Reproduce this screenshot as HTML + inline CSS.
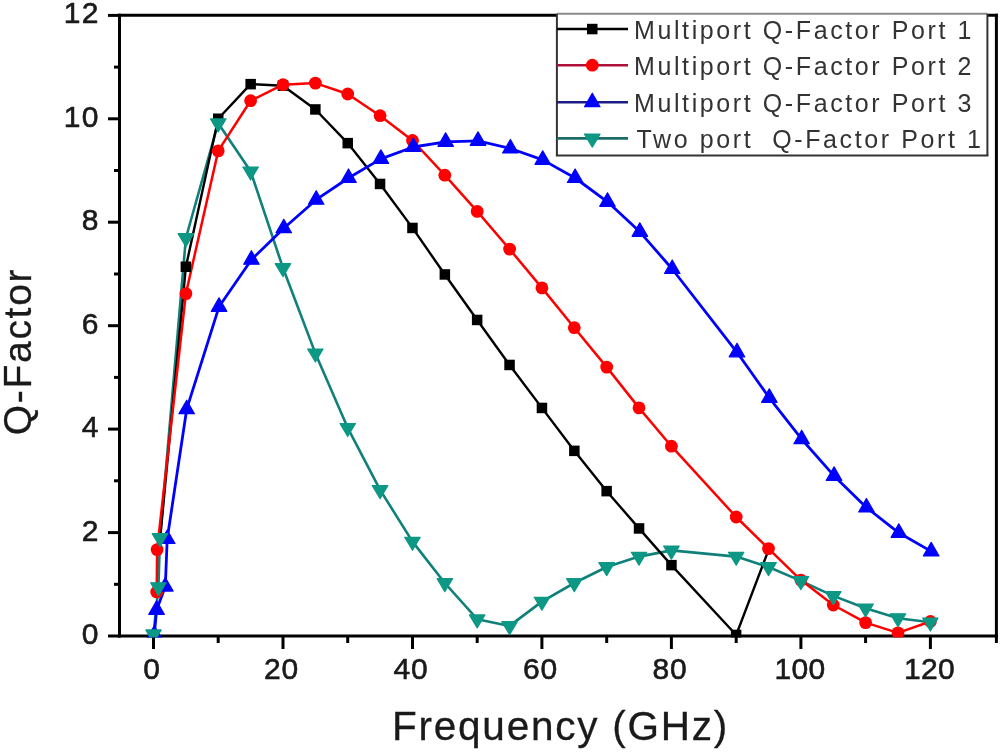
<!DOCTYPE html>
<html><head><meta charset="utf-8"><title>Q-Factor vs Frequency</title>
<style>html,body{margin:0;padding:0;background:#fff;width:1000px;height:754px;overflow:hidden}svg{display:block}text{font-family:"Liberation Sans",Arial,sans-serif}</style></head><body>
<svg width="1000" height="754" viewBox="0 0 1000 754">
<rect width="1000" height="754" fill="#fff"/>
<defs><clipPath id="pa"><rect x="118" y="13.7" width="879.5" height="623.8"/></clipPath></defs>
<g stroke="#000" stroke-width="3" fill="none" stroke-linecap="butt">
<line x1="119.5" y1="13.7" x2="119.5" y2="637.5"/>
<line x1="118.0" y1="15.2" x2="997.9" y2="15.2"/>
<line x1="118.0" y1="636.0" x2="997.9" y2="636.0"/>
<line x1="996.4" y1="13.7" x2="996.4" y2="643"/>
<line x1="108" y1="636.0" x2="119.5" y2="636.0"/>
<line x1="114" y1="584.3" x2="119.5" y2="584.3"/>
<line x1="108" y1="532.6" x2="119.5" y2="532.6"/>
<line x1="114" y1="480.8" x2="119.5" y2="480.8"/>
<line x1="108" y1="429.1" x2="119.5" y2="429.1"/>
<line x1="114" y1="377.4" x2="119.5" y2="377.4"/>
<line x1="108" y1="325.7" x2="119.5" y2="325.7"/>
<line x1="114" y1="274.0" x2="119.5" y2="274.0"/>
<line x1="108" y1="222.2" x2="119.5" y2="222.2"/>
<line x1="114" y1="170.5" x2="119.5" y2="170.5"/>
<line x1="108" y1="118.8" x2="119.5" y2="118.8"/>
<line x1="114" y1="67.1" x2="119.5" y2="67.1"/>
<line x1="108" y1="15.4" x2="119.5" y2="15.4"/>
<line x1="153.5" y1="636.0" x2="153.5" y2="649"/>
<line x1="218.2" y1="636.0" x2="218.2" y2="643"/>
<line x1="283.0" y1="636.0" x2="283.0" y2="649"/>
<line x1="347.7" y1="636.0" x2="347.7" y2="643"/>
<line x1="412.5" y1="636.0" x2="412.5" y2="649"/>
<line x1="477.2" y1="636.0" x2="477.2" y2="643"/>
<line x1="541.9" y1="636.0" x2="541.9" y2="649"/>
<line x1="606.7" y1="636.0" x2="606.7" y2="643"/>
<line x1="671.4" y1="636.0" x2="671.4" y2="649"/>
<line x1="736.2" y1="636.0" x2="736.2" y2="643"/>
<line x1="800.9" y1="636.0" x2="800.9" y2="649"/>
<line x1="865.6" y1="636.0" x2="865.6" y2="643"/>
<line x1="930.4" y1="636.0" x2="930.4" y2="649"/>
</g>
<g clip-path="url(#pa)">
<polyline points="153.5,634.2 158.4,587.1 160.0,538.0 185.9,238.0 218.2,123.2 250.6,171.3 283.0,268.0 315.4,353.4 347.7,427.8 380.1,489.9 412.5,541.6 444.8,583.0 477.2,619.2 509.6,625.9 541.9,601.6 574.3,583.0 606.7,567.0 639.0,556.6 671.4,550.4 736.2,556.6 768.5,567.0 800.9,580.9 833.3,595.9 865.6,608.3 898.0,618.2 930.4,622.3" fill="none" stroke="#0f807a" stroke-width="2.6" stroke-linejoin="round"/>
<polyline points="160.0,539.8 185.9,266.7 218.2,118.8 250.6,84.1 283.0,85.7 315.4,109.5 347.7,143.1 380.1,184.0 412.5,227.9 444.8,274.5 477.2,320.0 509.6,365.0 541.9,407.9 574.3,450.8 606.7,491.2 639.0,528.4 671.4,565.1 736.2,635.0 768.5,550.1" fill="none" stroke="#000" stroke-width="2.4" stroke-linejoin="round"/>
<polyline points="156.7,592.0 157.1,549.6 185.9,293.6 218.2,150.9 250.6,100.7 283.0,84.7 315.4,83.1 347.7,94.0 380.1,115.7 412.5,140.5 444.8,175.2 477.2,211.4 509.6,249.1 541.9,287.9 574.3,327.7 606.7,367.1 639.0,407.9 671.4,446.2 736.2,517.0 768.5,548.6 800.9,580.1 833.3,605.0 865.6,622.6 898.0,632.9 930.4,621.5" fill="none" stroke="#ff0000" stroke-width="2.5" stroke-linejoin="round"/>
<polyline points="154.3,634.7 156.6,609.9 165.3,586.6 167.2,539.0 186.7,409.2 219.0,306.8 251.4,259.7 283.8,228.2 316.2,199.7 348.5,178.0 380.9,158.9 413.3,147.0 445.6,141.8 478.0,140.8 510.4,148.5 542.7,159.9 575.1,178.0 607.5,201.8 639.8,231.8 672.2,269.0 737.0,352.3 769.3,397.8 801.7,439.2 834.1,475.9 866.4,507.5 898.8,532.8 931.2,551.4" fill="none" stroke="#0000ff" stroke-width="2.8" stroke-linejoin="round"/>
<g><rect x="180.6" y="261.5" width="10.5" height="10.5" fill="#000"/><rect x="213.0" y="113.5" width="10.5" height="10.5" fill="#000"/><rect x="245.4" y="78.9" width="10.5" height="10.5" fill="#000"/><rect x="277.7" y="80.4" width="10.5" height="10.5" fill="#000"/><rect x="310.1" y="104.2" width="10.5" height="10.5" fill="#000"/><rect x="342.5" y="137.9" width="10.5" height="10.5" fill="#000"/><rect x="374.8" y="178.7" width="10.5" height="10.5" fill="#000"/><rect x="407.2" y="222.7" width="10.5" height="10.5" fill="#000"/><rect x="439.6" y="269.2" width="10.5" height="10.5" fill="#000"/><rect x="471.9" y="314.7" width="10.5" height="10.5" fill="#000"/><rect x="504.3" y="359.7" width="10.5" height="10.5" fill="#000"/><rect x="536.7" y="402.7" width="10.5" height="10.5" fill="#000"/><rect x="569.1" y="445.6" width="10.5" height="10.5" fill="#000"/><rect x="601.4" y="485.9" width="10.5" height="10.5" fill="#000"/><rect x="633.8" y="523.2" width="10.5" height="10.5" fill="#000"/><rect x="666.2" y="559.9" width="10.5" height="10.5" fill="#000"/><rect x="730.9" y="629.7" width="10.5" height="10.5" fill="#000"/></g>
<g><circle cx="156.7" cy="592.0" r="6.4" fill="#ff0000"/><circle cx="157.1" cy="549.6" r="6.4" fill="#ff0000"/><circle cx="185.9" cy="293.6" r="6.4" fill="#ff0000"/><circle cx="218.2" cy="150.9" r="6.4" fill="#ff0000"/><circle cx="250.6" cy="100.7" r="6.4" fill="#ff0000"/><circle cx="283.0" cy="84.7" r="6.4" fill="#ff0000"/><circle cx="315.4" cy="83.1" r="6.4" fill="#ff0000"/><circle cx="347.7" cy="94.0" r="6.4" fill="#ff0000"/><circle cx="380.1" cy="115.7" r="6.4" fill="#ff0000"/><circle cx="412.5" cy="140.5" r="6.4" fill="#ff0000"/><circle cx="444.8" cy="175.2" r="6.4" fill="#ff0000"/><circle cx="477.2" cy="211.4" r="6.4" fill="#ff0000"/><circle cx="509.6" cy="249.1" r="6.4" fill="#ff0000"/><circle cx="541.9" cy="287.9" r="6.4" fill="#ff0000"/><circle cx="574.3" cy="327.7" r="6.4" fill="#ff0000"/><circle cx="606.7" cy="367.1" r="6.4" fill="#ff0000"/><circle cx="639.0" cy="407.9" r="6.4" fill="#ff0000"/><circle cx="671.4" cy="446.2" r="6.4" fill="#ff0000"/><circle cx="736.2" cy="517.0" r="6.4" fill="#ff0000"/><circle cx="768.5" cy="548.6" r="6.4" fill="#ff0000"/><circle cx="800.9" cy="580.1" r="6.4" fill="#ff0000"/><circle cx="833.3" cy="605.0" r="6.4" fill="#ff0000"/><circle cx="865.6" cy="622.6" r="6.4" fill="#ff0000"/><circle cx="898.0" cy="632.9" r="6.4" fill="#ff0000"/><circle cx="930.4" cy="621.5" r="6.4" fill="#ff0000"/></g>
<g><polygon points="154.3,625.7 146.6,639.2 162.1,639.2" fill="#0000ff" stroke="#0000ff" stroke-width="1.2" stroke-linejoin="round"/><polygon points="156.6,600.9 148.8,614.4 164.3,614.4" fill="#0000ff" stroke="#0000ff" stroke-width="1.2" stroke-linejoin="round"/><polygon points="165.3,577.6 157.6,591.1 173.1,591.1" fill="#0000ff" stroke="#0000ff" stroke-width="1.2" stroke-linejoin="round"/><polygon points="167.2,530.0 159.5,543.5 175.0,543.5" fill="#0000ff" stroke="#0000ff" stroke-width="1.2" stroke-linejoin="round"/><polygon points="186.7,400.2 178.9,413.7 194.4,413.7" fill="#0000ff" stroke="#0000ff" stroke-width="1.2" stroke-linejoin="round"/><polygon points="219.0,297.8 211.3,311.3 226.8,311.3" fill="#0000ff" stroke="#0000ff" stroke-width="1.2" stroke-linejoin="round"/><polygon points="251.4,250.7 243.7,264.2 259.2,264.2" fill="#0000ff" stroke="#0000ff" stroke-width="1.2" stroke-linejoin="round"/><polygon points="283.8,219.2 276.0,232.7 291.5,232.7" fill="#0000ff" stroke="#0000ff" stroke-width="1.2" stroke-linejoin="round"/><polygon points="316.2,190.7 308.4,204.2 323.9,204.2" fill="#0000ff" stroke="#0000ff" stroke-width="1.2" stroke-linejoin="round"/><polygon points="348.5,169.0 340.8,182.5 356.3,182.5" fill="#0000ff" stroke="#0000ff" stroke-width="1.2" stroke-linejoin="round"/><polygon points="380.9,149.9 373.1,163.4 388.6,163.4" fill="#0000ff" stroke="#0000ff" stroke-width="1.2" stroke-linejoin="round"/><polygon points="413.3,138.0 405.5,151.5 421.0,151.5" fill="#0000ff" stroke="#0000ff" stroke-width="1.2" stroke-linejoin="round"/><polygon points="445.6,132.8 437.9,146.3 453.4,146.3" fill="#0000ff" stroke="#0000ff" stroke-width="1.2" stroke-linejoin="round"/><polygon points="478.0,131.8 470.2,145.3 485.8,145.3" fill="#0000ff" stroke="#0000ff" stroke-width="1.2" stroke-linejoin="round"/><polygon points="510.4,139.5 502.6,153.0 518.1,153.0" fill="#0000ff" stroke="#0000ff" stroke-width="1.2" stroke-linejoin="round"/><polygon points="542.7,150.9 535.0,164.4 550.5,164.4" fill="#0000ff" stroke="#0000ff" stroke-width="1.2" stroke-linejoin="round"/><polygon points="575.1,169.0 567.4,182.5 582.9,182.5" fill="#0000ff" stroke="#0000ff" stroke-width="1.2" stroke-linejoin="round"/><polygon points="607.5,192.8 599.7,206.3 615.2,206.3" fill="#0000ff" stroke="#0000ff" stroke-width="1.2" stroke-linejoin="round"/><polygon points="639.8,222.8 632.1,236.3 647.6,236.3" fill="#0000ff" stroke="#0000ff" stroke-width="1.2" stroke-linejoin="round"/><polygon points="672.2,260.0 664.5,273.5 680.0,273.5" fill="#0000ff" stroke="#0000ff" stroke-width="1.2" stroke-linejoin="round"/><polygon points="737.0,343.3 729.2,356.8 744.7,356.8" fill="#0000ff" stroke="#0000ff" stroke-width="1.2" stroke-linejoin="round"/><polygon points="769.3,388.8 761.6,402.3 777.1,402.3" fill="#0000ff" stroke="#0000ff" stroke-width="1.2" stroke-linejoin="round"/><polygon points="801.7,430.2 793.9,443.7 809.4,443.7" fill="#0000ff" stroke="#0000ff" stroke-width="1.2" stroke-linejoin="round"/><polygon points="834.1,466.9 826.3,480.4 841.8,480.4" fill="#0000ff" stroke="#0000ff" stroke-width="1.2" stroke-linejoin="round"/><polygon points="866.4,498.5 858.7,512.0 874.2,512.0" fill="#0000ff" stroke="#0000ff" stroke-width="1.2" stroke-linejoin="round"/><polygon points="898.8,523.8 891.1,537.3 906.6,537.3" fill="#0000ff" stroke="#0000ff" stroke-width="1.2" stroke-linejoin="round"/><polygon points="931.2,542.4 923.4,555.9 938.9,555.9" fill="#0000ff" stroke="#0000ff" stroke-width="1.2" stroke-linejoin="round"/></g>
<g><polygon points="145.8,629.9 161.2,629.9 153.5,642.9" fill="#0c9884" stroke="#0c9884" stroke-width="1.2" stroke-linejoin="round"/><polygon points="150.6,582.8 166.1,582.8 158.4,595.8" fill="#0c9884" stroke="#0c9884" stroke-width="1.2" stroke-linejoin="round"/><polygon points="152.2,533.7 167.7,533.7 160.0,546.7" fill="#0c9884" stroke="#0c9884" stroke-width="1.2" stroke-linejoin="round"/><polygon points="178.1,233.7 193.6,233.7 185.9,246.7" fill="#0c9884" stroke="#0c9884" stroke-width="1.2" stroke-linejoin="round"/><polygon points="210.5,118.9 226.0,118.9 218.2,131.9" fill="#0c9884" stroke="#0c9884" stroke-width="1.2" stroke-linejoin="round"/><polygon points="242.9,167.0 258.4,167.0 250.6,180.0" fill="#0c9884" stroke="#0c9884" stroke-width="1.2" stroke-linejoin="round"/><polygon points="275.2,263.7 290.7,263.7 283.0,276.7" fill="#0c9884" stroke="#0c9884" stroke-width="1.2" stroke-linejoin="round"/><polygon points="307.6,349.0 323.1,349.0 315.4,362.0" fill="#0c9884" stroke="#0c9884" stroke-width="1.2" stroke-linejoin="round"/><polygon points="340.0,423.5 355.5,423.5 347.7,436.5" fill="#0c9884" stroke="#0c9884" stroke-width="1.2" stroke-linejoin="round"/><polygon points="372.3,485.6 387.8,485.6 380.1,498.6" fill="#0c9884" stroke="#0c9884" stroke-width="1.2" stroke-linejoin="round"/><polygon points="404.7,537.3 420.2,537.3 412.5,550.3" fill="#0c9884" stroke="#0c9884" stroke-width="1.2" stroke-linejoin="round"/><polygon points="437.1,578.7 452.6,578.7 444.8,591.7" fill="#0c9884" stroke="#0c9884" stroke-width="1.2" stroke-linejoin="round"/><polygon points="469.4,614.9 484.9,614.9 477.2,627.9" fill="#0c9884" stroke="#0c9884" stroke-width="1.2" stroke-linejoin="round"/><polygon points="501.8,621.6 517.3,621.6 509.6,634.6" fill="#0c9884" stroke="#0c9884" stroke-width="1.2" stroke-linejoin="round"/><polygon points="534.2,597.3 549.7,597.3 541.9,610.3" fill="#0c9884" stroke="#0c9884" stroke-width="1.2" stroke-linejoin="round"/><polygon points="566.6,578.7 582.1,578.7 574.3,591.7" fill="#0c9884" stroke="#0c9884" stroke-width="1.2" stroke-linejoin="round"/><polygon points="598.9,562.6 614.4,562.6 606.7,575.6" fill="#0c9884" stroke="#0c9884" stroke-width="1.2" stroke-linejoin="round"/><polygon points="631.3,552.3 646.8,552.3 639.0,565.3" fill="#0c9884" stroke="#0c9884" stroke-width="1.2" stroke-linejoin="round"/><polygon points="663.7,546.1 679.2,546.1 671.4,559.1" fill="#0c9884" stroke="#0c9884" stroke-width="1.2" stroke-linejoin="round"/><polygon points="728.4,552.3 743.9,552.3 736.2,565.3" fill="#0c9884" stroke="#0c9884" stroke-width="1.2" stroke-linejoin="round"/><polygon points="760.8,562.6 776.3,562.6 768.5,575.6" fill="#0c9884" stroke="#0c9884" stroke-width="1.2" stroke-linejoin="round"/><polygon points="793.1,576.6 808.6,576.6 800.9,589.6" fill="#0c9884" stroke="#0c9884" stroke-width="1.2" stroke-linejoin="round"/><polygon points="825.5,591.6 841.0,591.6 833.3,604.6" fill="#0c9884" stroke="#0c9884" stroke-width="1.2" stroke-linejoin="round"/><polygon points="857.9,604.0 873.4,604.0 865.6,617.0" fill="#0c9884" stroke="#0c9884" stroke-width="1.2" stroke-linejoin="round"/><polygon points="890.3,613.8 905.8,613.8 898.0,626.8" fill="#0c9884" stroke="#0c9884" stroke-width="1.2" stroke-linejoin="round"/><polygon points="922.6,618.0 938.1,618.0 930.4,631.0" fill="#0c9884" stroke="#0c9884" stroke-width="1.2" stroke-linejoin="round"/></g>
</g>
<g fill="#1a1a1a" stroke="#1a1a1a" stroke-width="0.6" font-size="30">
<text x="100" y="644.0" text-anchor="end" letter-spacing="1.5">0</text>
<text x="100" y="540.6" text-anchor="end" letter-spacing="1.5">2</text>
<text x="100" y="437.1" text-anchor="end" letter-spacing="1.5">4</text>
<text x="100" y="333.7" text-anchor="end" letter-spacing="1.5">6</text>
<text x="100" y="230.2" text-anchor="end" letter-spacing="1.5">8</text>
<text x="100" y="126.8" text-anchor="end" letter-spacing="1.5">10</text>
<text x="100" y="23.4" text-anchor="end" letter-spacing="1.5">12</text>
<text x="152.1" y="678.9" text-anchor="middle" letter-spacing="0.9">0</text>
<text x="281.6" y="678.9" text-anchor="middle" letter-spacing="0.9">20</text>
<text x="411.1" y="678.9" text-anchor="middle" letter-spacing="0.9">40</text>
<text x="540.6" y="678.9" text-anchor="middle" letter-spacing="0.9">60</text>
<text x="670.1" y="678.9" text-anchor="middle" letter-spacing="0.9">80</text>
<text x="800.1" y="678.9" text-anchor="middle" letter-spacing="0.4">100</text>
<text x="929.6" y="678.9" text-anchor="middle" letter-spacing="0.4">120</text>
</g>
<text x="560.5" y="740.4" text-anchor="middle" font-size="40.5" letter-spacing="1.75" fill="#1a1a1a" stroke="#1a1a1a" stroke-width="0.3">Frequency (GHz)</text>
<text transform="translate(30.5,351.5) rotate(-90)" text-anchor="middle" font-size="39" letter-spacing="1.7" fill="#1a1a1a" stroke="#1a1a1a" stroke-width="0.3">Q-Factor</text>
<rect x="556.9" y="13.8" width="430.5" height="141.8" fill="#fff" stroke="none"/>
<line x1="556.9" y1="13.8" x2="987.4" y2="13.8" stroke="#8a8a8a" stroke-width="2"/>
<line x1="556.9" y1="13.8" x2="556.9" y2="155.6" stroke="#333" stroke-width="2"/>
<line x1="987.4" y1="13.8" x2="987.4" y2="155.6" stroke="#333" stroke-width="2"/>
<line x1="555.9" y1="155.6" x2="988.4" y2="155.6" stroke="#333" stroke-width="2"/>
<line x1="556.9" y1="29.0" x2="628" y2="29.0" stroke="#000" stroke-width="2.6"/>
<rect x="587.0" y="23.8" width="10.5" height="10.5" fill="#000"/>
<text x="634" y="38.6" font-size="25" letter-spacing="2.6" fill="#333" xml:space="preserve">Multiport Q-Factor Port 1</text>
<line x1="556.9" y1="65.2" x2="628" y2="65.2" stroke="#b0103a" stroke-width="2.6"/>
<circle cx="592.3" cy="65.2" r="6.4" fill="#ff0000"/>
<text x="634" y="74.8" font-size="25" letter-spacing="2.6" fill="#333" xml:space="preserve">Multiport Q-Factor Port 2</text>
<line x1="556.9" y1="102.2" x2="628" y2="102.2" stroke="#1c1c84" stroke-width="2.6"/>
<polygon points="592.3,93.2 584.5,106.7 600.0,106.7" fill="#0000ff" stroke="#0000ff" stroke-width="1.2" stroke-linejoin="round"/>
<text x="634" y="111.8" font-size="25" letter-spacing="2.6" fill="#333" xml:space="preserve">Multiport Q-Factor Port 3</text>
<line x1="556.9" y1="138.4" x2="628" y2="138.4" stroke="#1a6e68" stroke-width="2.6"/>
<polygon points="584.5,134.1 600.0,134.1 592.3,147.1" fill="#0c9884" stroke="#0c9884" stroke-width="1.2" stroke-linejoin="round"/>
<text x="636.5" y="148.0" font-size="25" letter-spacing="2.6" fill="#333" xml:space="preserve">Two port  Q-Factor Port 1</text>
</svg></body></html>
